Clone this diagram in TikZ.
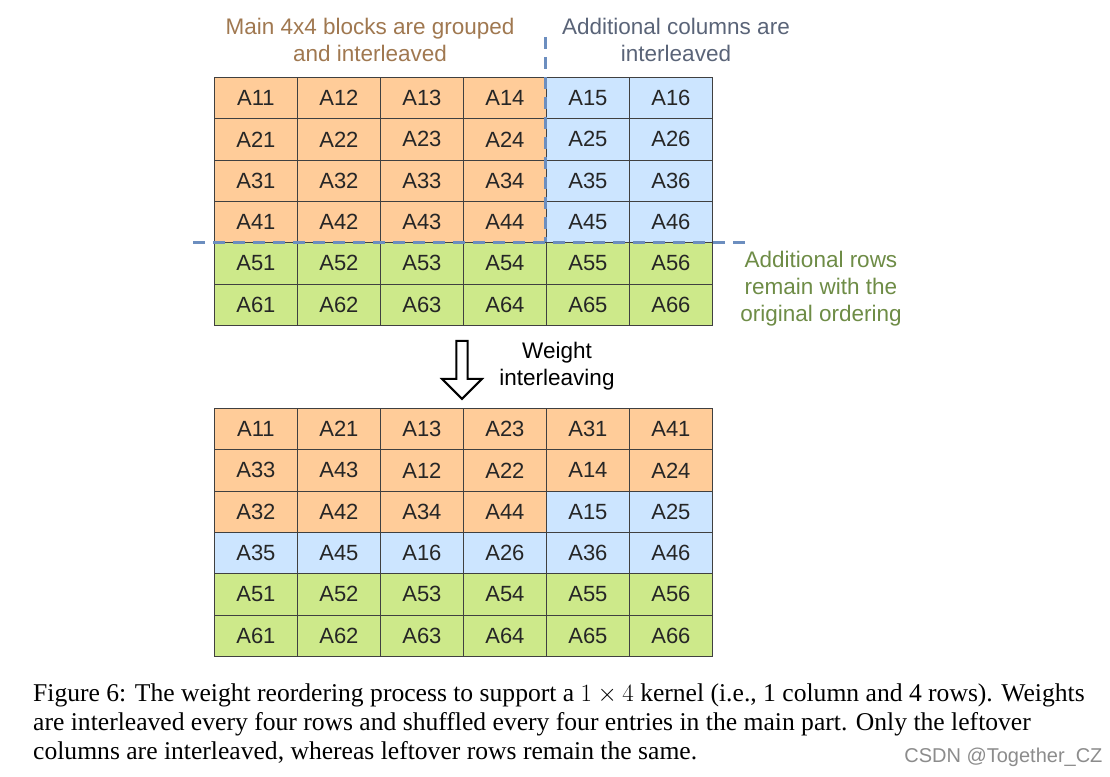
\documentclass[tikz,border=0pt]{standalone}
\usepackage{fontspec}
\setmainfont{Liberation Sans}
\newfontfamily\capfont{Liberation Serif}
\usetikzlibrary{shapes.arrows}
\definecolor{cor}{HTML}{FFCC99}
\definecolor{cbl}{HTML}{CCE5FF}
\definecolor{cgr}{HTML}{CDE98A}
\definecolor{dsh}{HTML}{6C8EBF}
\begin{document}
\begin{tikzpicture}[x=1pt,y=-1pt,
 cell/.style={draw=black!75,line width=0.8pt,minimum width=83pt,minimum height=41.3pt,inner sep=0pt,font=\fontsize{22}{22}\selectfont,text=black!85,anchor=north west},
 lbl/.style={font=\fontsize{22.5}{27}\selectfont,align=center},
 dl/.style={dsh,line width=3pt,dash pattern=on 12pt off 8pt}]
\useasboundingbox (0,0) rectangle (1110,776);
\fill[white] (0,0) rectangle (1110,776);
% top grid
\def\tcls{{"cor","cor","cor","cor","cbl","cbl","cor","cor","cor","cor","cbl","cbl","cor","cor","cor","cor","cbl","cbl","cor","cor","cor","cor","cbl","cbl","cgr","cgr","cgr","cgr","cgr","cgr","cgr","cgr","cgr","cgr","cgr","cgr"}}
\foreach \r in {1,...,6}{\foreach \c in {1,...,6}{
 \pgfmathsetmacro{\i}{int(6*(\r-1)+\c-1)}
 \pgfmathsetmacro{\col}{\tcls[\i]}
 \node[cell,fill=\col] (t\r\c) at ({214+83*(\c-1)},{77+41.3*(\r-1)}) {A\r\c};
}}
% bottom grid
\def\lab{{"11","21","13","23","31","41","33","43","12","22","14","24","32","42","34","44","15","25","35","45","16","26","36","46","51","52","53","54","55","56","61","62","63","64","65","66"}}
\def\cls{{"cor","cor","cor","cor","cor","cor","cor","cor","cor","cor","cor","cor","cor","cor","cor","cor","cbl","cbl","cbl","cbl","cbl","cbl","cbl","cbl","cgr","cgr","cgr","cgr","cgr","cgr","cgr","cgr","cgr","cgr","cgr","cgr"}}
\foreach \r in {1,...,6}{\foreach \c in {1,...,6}{
 \pgfmathsetmacro{\i}{int(6*(\r-1)+\c-1)}
 \pgfmathsetmacro{\l}{\lab[\i]}
 \pgfmathsetmacro{\cl}{\cls[\i]}
 \node[cell,fill=\cl] (b\r\c) at ({214+83*(\c-1)},{408+41.3*(\r-1)}) {A\l};
}}
\coordinate (v1) at (545,37); \coordinate (v2) at (545,242);
\coordinate (h1) at (193,242); \coordinate (h2) at (752,242);
\draw[dl] (v1) -- (v2);
\draw[dl] (h1) -- (h2);
\node[lbl,text={rgb,255:red,160;green,120;blue,80}] (l1) at (370,40) {Main 4x4 blocks are grouped\\and interleaved};
\node[lbl,text={rgb,255:red,90;green,100;blue,120}] (l2) at (676,40) {Additional columns are\\interleaved};
\node[lbl,text={rgb,255:red,110;green,140;blue,70}] (l3) at (821,289) {Additional rows\\remain with the\\original ordering};
\node[single arrow,draw=black,line width=2pt,fill=white,rotate=270,minimum height=58pt,single arrow head extend=10pt,minimum width=40pt,inner sep=3pt] (ar) at (462,367) {};
\node[lbl] (l4) at (557,366) {Weight\\interleaving};
\node[anchor=north west,align=left,font=\capfont\fontsize{25.6}{29}\selectfont,inner sep=0pt] (cap) at (33,684) {Figure 6: The weight reordering process to support a $1\times 4$ kernel (i.e., 1 column and 4 rows). Weights\\are interleaved every four rows and shuffled every four entries in the main part. Only the leftover\\columns are interleaved, whereas leftover rows remain the same.};
\node[anchor=east,text=black!45,font=\fontsize{20}{20}\selectfont] (wm) at (1106,757) {CSDN @Together\_CZ};
\end{tikzpicture}
\end{document}
